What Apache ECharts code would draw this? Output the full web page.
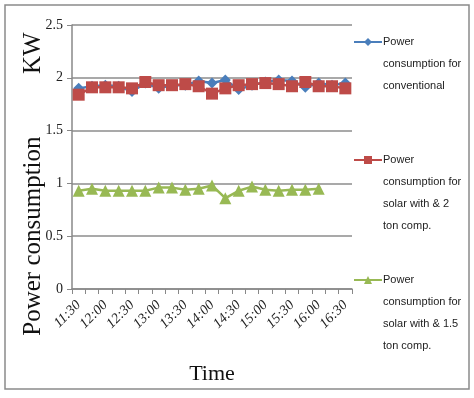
<!DOCTYPE html>
<html><head><meta charset="utf-8">
<script src="https://cdn.jsdelivr.net/npm/echarts@6/dist/echarts.min.js"></script>
<style>html,body{margin:0;padding:0;background:#fff}#c{width:474px;height:398px}</style>
</head><body><div id="c"></div>
<script>
var categories = ['11:30','11:45','12:00','12:15','12:30','12:45','13:00','13:15','13:30','13:45','14:00','14:15','14:30','14:45','15:00','15:15','15:30','15:45','16:00','16:15','16:30'];
var conventional = [1.90,1.92,1.93,1.92,1.87,1.95,1.90,1.93,1.93,1.97,1.95,1.98,1.89,1.93,1.96,1.98,1.97,1.91,1.95,1.93,1.95];
var solar2ton = [1.84,1.91,1.91,1.91,1.90,1.96,1.93,1.93,1.94,1.92,1.85,1.90,1.93,1.94,1.95,1.94,1.92,1.96,1.92,1.92,1.90];
var solar15ton = [0.93,0.95,0.93,0.93,0.93,0.93,0.96,0.96,0.94,0.95,0.98,0.86,0.93,0.97,0.94,0.93,0.94,0.94,0.95];
var seriesNames = ['Power consumption for conventional','Power consumption for solar with & 2 ton comp.','Power consumption for solar with & 1.5 ton comp.'];
var legendLabels = ['Power\nconsumption for\nconventional','Power\nconsumption for\nsolar with & 2\nton comp.','Power\nconsumption for\nsolar with & 1.5\nton comp.'];
var colors = ['#4a7ebb','#be4b48','#98b954'];

var chart = echarts.init(document.getElementById('c'));
var legendFont = "'Liberation Sans',sans-serif";
var serif = "'Liberation Serif','DejaVu Serif',serif";
var iconY = [42, 160, 280];
var LH = 22;
function mkLegend(i){
  var lines = legendLabels[i].split('\n').length;
  var pad = '';
  for (var k=0;k<lines-1;k++) pad += '\n';
  var H = (2*lines-1)*LH;
  return {
    data:[seriesNames[i]], orient:'vertical', left:353, top: iconY[i]-H/2, padding:0,
    itemWidth:28, itemHeight:10, selectedMode:false,
    formatter: function(){ return pad + legendLabels[i]; },
    textStyle:{fontFamily:legendFont, fontSize:11, color:'#222', lineHeight:LH, padding:[0,0,0,-4]}
  };
}
chart.setOption({
  animation:false,
  backgroundColor:'#fff',
  graphic:[{type:'rect', shape:{x:5,y:5,width:464,height:384}, style:{fill:'none', stroke:'#8a8a8a', lineWidth:1.5}}],
  legend:[mkLegend(0), mkLegend(1), mkLegend(2)],
  grid:{left:72, right:122, top:25, bottom:109},
  xAxis:{
    type:'category', data:categories, boundaryGap:true,
    name:'Time', nameLocation:'middle', nameGap:74, nameMoveOverlap:false,
    nameTextStyle:{fontFamily:serif, fontSize:22, color:'#111'},
    axisLine:{lineStyle:{color:'#888', width:1.5}},
    axisTick:{show:true, interval:0, length:5, lineStyle:{color:'#888'}},
    axisLabel:{interval:1, rotate:45, margin:14, fontFamily:serif, fontStyle:'italic', fontSize:14, color:'#222'}
  },
  yAxis:{
    type:'value', min:0, max:2.5, interval:0.5,
    name:'Power consumption          KW', nameLocation:'middle', nameGap:26, nameMoveOverlap:false,
    nameTextStyle:{fontFamily:serif, fontSize:25, color:'#111', padding:[0,54,0,0]},
    axisLine:{show:true, lineStyle:{color:'#888', width:1.5}},
    axisTick:{show:true, length:5, lineStyle:{color:'#888'}},
    axisLabel:{margin:9, fontFamily:serif, fontSize:14, color:'#222'},
    splitLine:{lineStyle:{color:'#8c8c8c', width:1.5}}
  },
  series:[
    {name:seriesNames[0], type:'line', data:conventional, showAllSymbol:true, symbol:'diamond', symbolSize:11, color:colors[0], lineStyle:{width:2.5}, itemStyle:{color:colors[0]}, z:2},
    {name:seriesNames[1], type:'line', data:solar2ton, showAllSymbol:true, symbol:'rect', symbolSize:12, color:colors[1], lineStyle:{width:2.5}, itemStyle:{color:colors[1]}, z:3},
    {name:seriesNames[2], type:'line', data:solar15ton, showAllSymbol:true, symbol:'triangle', symbolSize:12, color:colors[2], lineStyle:{width:2.5}, itemStyle:{color:colors[2]}, z:4}
  ]
});
</script></body></html>
